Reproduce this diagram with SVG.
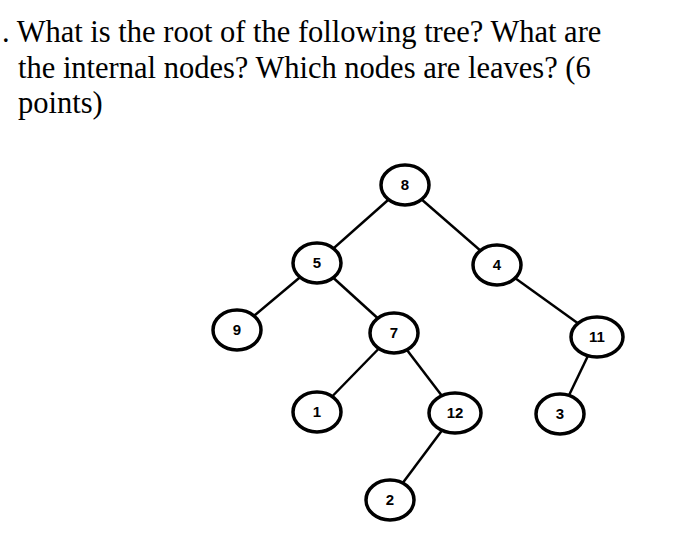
<svg xmlns="http://www.w3.org/2000/svg" width="700" height="548" viewBox="0 0 700 548">
<style>
.q{font-family:"Liberation Serif",serif;font-size:30.5px;fill:#000}
.n ellipse{fill:#fff;stroke:#000;stroke-width:3.5}
.n text{font-family:"Liberation Sans",sans-serif;font-weight:bold;font-size:15px;text-anchor:middle;fill:#000}
#edges line{stroke:#000;stroke-width:2.5}
</style>
<rect width="700" height="548" fill="#fff"/>
<text class="q" x="2" y="42">. What is the root of the following tree? What are</text>
<text class="q" x="18" y="78">the internal nodes? Which nodes are leaves? (6</text>
<text class="q" x="18" y="113">points)</text>
<g id="edges">
<line x1="405" y1="185" x2="317" y2="263"/>
<line x1="405" y1="185" x2="497" y2="265"/>
<line x1="317" y1="263" x2="237" y2="330"/>
<line x1="317" y1="263" x2="394" y2="333"/>
<line x1="497" y1="265" x2="597" y2="337"/>
<line x1="394" y1="333" x2="317" y2="412"/>
<line x1="394" y1="333" x2="455" y2="413"/>
<line x1="597" y1="337" x2="560" y2="414"/>
<line x1="455" y1="413" x2="390" y2="500"/>
</g>
<g id="n8" class="n"><ellipse cx="405" cy="185" rx="24" ry="20"/><text x="405" y="190">8</text></g>
<g id="n5" class="n"><ellipse cx="317" cy="263" rx="24" ry="20"/><text x="317" y="268">5</text></g>
<g id="n4" class="n"><ellipse cx="497" cy="265" rx="24" ry="20"/><text x="497" y="270">4</text></g>
<g id="n9" class="n"><ellipse cx="237" cy="330" rx="24" ry="20"/><text x="237" y="335">9</text></g>
<g id="n7" class="n"><ellipse cx="394" cy="333" rx="24" ry="20"/><text x="394" y="338">7</text></g>
<g id="n11" class="n"><ellipse cx="597" cy="337" rx="26" ry="20"/><text x="597" y="342">11</text></g>
<g id="n1" class="n"><ellipse cx="317" cy="412" rx="24" ry="20"/><text x="317" y="417">1</text></g>
<g id="n12" class="n"><ellipse cx="455" cy="413" rx="26" ry="20"/><text x="455" y="418">12</text></g>
<g id="n3" class="n"><ellipse cx="560" cy="414" rx="24" ry="20"/><text x="560" y="419">3</text></g>
<g id="n2" class="n"><ellipse cx="390" cy="500" rx="24" ry="20"/><text x="390" y="505">2</text></g>
</svg>
